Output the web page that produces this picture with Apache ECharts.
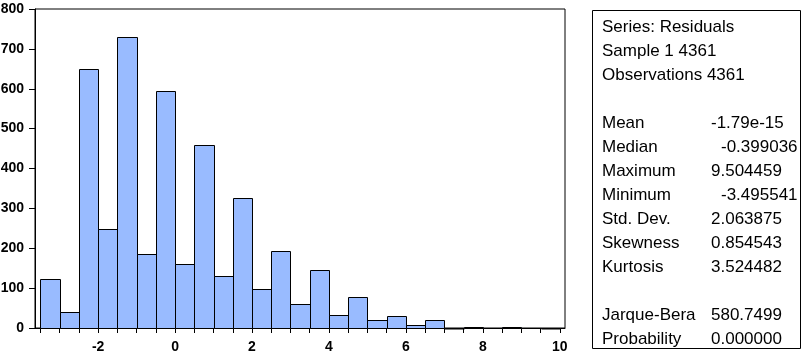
<!DOCTYPE html>
<html>
<head>
<meta charset="utf-8">
<script src="https://cdn.jsdelivr.net/npm/echarts@6/dist/echarts.min.js"></script>
<style>
html,body{margin:0;padding:0;background:#fff;}
#chart{width:802px;height:358px;}
</style>
</head>
<body>
<div id="chart"></div>
<script>
// ---- data ----
const binStarts = [-3.5, -3, -2.5, -2, -1.5, -1, -0.5, 0, 0.5, 1, 1.5, 2, 2.5, 3, 3.5, 4, 4.5, 5, 5.5, 6, 6.5, 7, 7.5, 8, 8.5, 9, 9.5];
const binWidth = 0.5;
const counts = [123, 40, 649, 249, 730, 186, 594, 161, 460, 131, 327, 98, 194, 60, 146, 33, 78, 20, 31, 8, 20, 1, 3, 0, 3, 0, 1];
const xTickLabels = [-2, 0, 2, 4, 6, 8, 10];
const yTickLabels = [0, 100, 200, 300, 400, 500, 600, 700, 800];

const headerLines = ['Series: Residuals', 'Sample 1 4361', 'Observations 4361'];
const statNames = ['Mean', 'Median', 'Maximum', 'Minimum', 'Std. Dev.', 'Skewness', 'Kurtosis'];
const statValues = ['-1.79e-15', '-0.399036', '9.504459', '-3.495541', '2.063875', '0.854543', '3.524482'];
const testNames = ['Jarque-Bera', 'Probability'];
const testValues = ['580.7499', '0.000000'];

// ---- layout (not data) ----
const statIndent = [0, 10, 0, 10, 0, 0, 0];
const FAMILY = 'Arial, "Liberation Sans", sans-serif';

const barData = binStarts.map((s, i) => [s, counts[i], s + binWidth]);

const chart = echarts.init(document.getElementById('chart'), null, {renderer: 'canvas'});

const graphics = [];
graphics.push({
  type: 'rect', shape: {x: 592.5, y: 10.5, width: 208, height: 338},
  style: {fill: '#fff', stroke: '#000', lineWidth: 1}, z: 10
});
const LX = 602, VX = 711, LINE0 = 27, STEP = 24;
function addText(str, x, y) {
  graphics.push({type: 'text', x: x, y: y, z: 11,
    style: {text: str, fontSize: 17, fontFamily: FAMILY, fill: '#000', verticalAlign: 'middle', align: 'left'}});
}
headerLines.forEach((t, i) => addText(t, LX, LINE0 + i * STEP));
statNames.forEach((t, i) => {
  addText(t, LX, LINE0 + (4 + i) * STEP);
  addText(statValues[i], VX + statIndent[i], LINE0 + (4 + i) * STEP);
});
testNames.forEach((t, i) => {
  addText(t, LX, LINE0 + (12 + i) * STEP);
  addText(testValues[i], VX, LINE0 + (12 + i) * STEP);
});

chart.setOption({
  animation: false,
  backgroundColor: '#fff',
  grid: {left: 35, right: 237, top: 9, bottom: 30, show: true, borderColor: '#000', borderWidth: 1,
         containLabel: false, outerBoundsMode: 'none'},
  xAxis: {
    type: 'value', min: -3.64, max: 10.135, splitNumber: 27,
    axisLine: {onZero: false, lineStyle: {color: '#000', width: 1}},
    axisTick: {length: 5, lineStyle: {color: '#000'}},
    splitLine: {show: false},
    axisLabel: {
      color: '#000', fontWeight: 'bold', fontSize: 14, fontFamily: FAMILY,
      margin: 12, showMinLabel: false, showMaxLabel: false, hideOverlap: false,
      formatter: v => {
        const r = Math.round(v * 1000) / 1000;
        return xTickLabels.includes(r) ? String(r) : '';
      }
    }
  },
  yAxis: {
    type: 'value', min: 0, max: 800, interval: 100,
    axisLine: {show: true, onZero: false, lineStyle: {color: '#000', width: 1}},
    axisTick: {show: true, length: 6, lineStyle: {color: '#000'}},
    splitLine: {show: false},
    axisLabel: {
      color: '#000', fontWeight: 'bold', fontSize: 14, fontFamily: FAMILY,
      margin: 11,
      formatter: v => (yTickLabels.includes(v) ? String(v) : '')
    }
  },
  series: [{
    type: 'custom',
    data: barData,
    encode: {x: [0, 2], y: 1},
    renderItem: (params, api) => {
      const x0 = api.value(0), h = api.value(1), x1 = api.value(2);
      if (!h) return null;
      const p0 = api.coord([x0, h]);
      const p1 = api.coord([x1, 0]);
      const left = Math.round(p0[0]) + 0.5;
      const right = Math.round(p1[0]) + 0.5;
      const top = Math.round(p0[1]) + 0.5;
      const bottom = Math.round(p1[1]) + 0.5;
      return {
        type: 'rect',
        shape: {x: left, y: top, width: right - left, height: Math.max(bottom - top, 0.5)},
        style: {fill: '#99bbff', stroke: '#000', lineWidth: 1}
      };
    }
  }],
  graphic: graphics
});
</script>
</body>
</html>
